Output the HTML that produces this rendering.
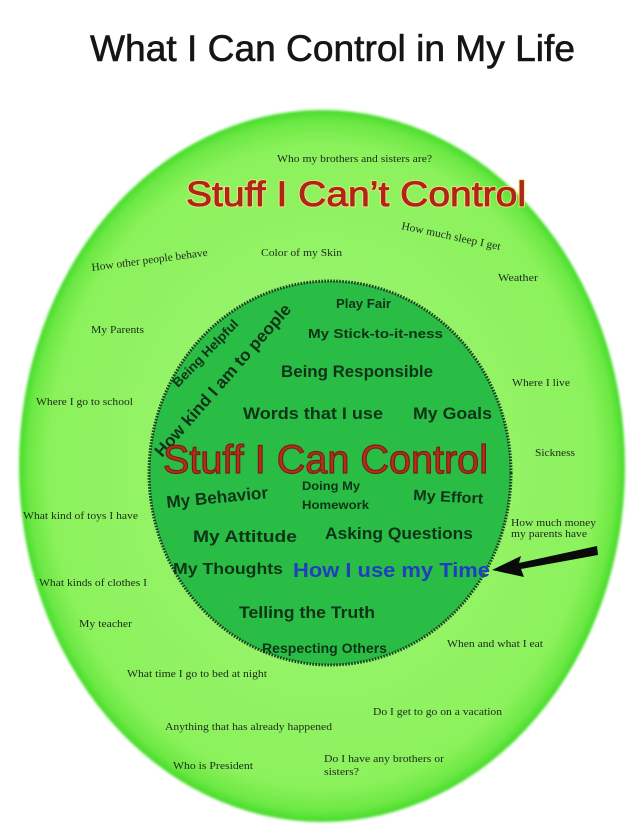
<!DOCTYPE html>
<html><head><meta charset="utf-8"><style>
html,body{margin:0;padding:0;background:#fff;}
svg{display:block;}
.o{font-family:"Liberation Serif",serif;font-size:11px;fill:#1c2a1c;}
.i{font-family:"Liberation Sans",sans-serif;font-weight:bold;fill:#0f3318;}
</style></head><body>
<svg width="640" height="831" viewBox="0 0 640 831" xmlns="http://www.w3.org/2000/svg">
<defs>
<radialGradient id="og" cx="0.5" cy="0.5" r="0.5">
<stop offset="0" stop-color="#a0f578"/>
<stop offset="0.9" stop-color="#8cf25c"/>
<stop offset="0.97" stop-color="#6ce844"/>
<stop offset="1" stop-color="#46dc2a"/>
</radialGradient>
<filter id="bl" x="-5%" y="-5%" width="110%" height="110%"><feGaussianBlur stdDeviation="1.2"/></filter>
</defs>
<rect width="640" height="831" fill="#fff"/>
<text x="90" y="61" font-family="Liberation Sans, sans-serif" font-size="37" fill="#151515" stroke="#151515" stroke-width="0.6" textLength="485" lengthAdjust="spacingAndGlyphs">What I Can Control in My Life</text>

<ellipse cx="322" cy="466" rx="303" ry="356" fill="url(#og)" filter="url(#bl)"/>

<ellipse cx="330" cy="473" rx="181" ry="192" fill="#2abd45" stroke="#1d3a22" stroke-width="3" stroke-dasharray="1.6 1.4"/>

<!-- outer labels -->
<text class="o" x="277" y="162" textLength="155" lengthAdjust="spacingAndGlyphs">Who my brothers and sisters are?</text>
<text x="186" y="206" font-family="Liberation Sans, sans-serif" font-size="35" fill="#b0261a" stroke="#f2e27a" stroke-width="2.5" paint-order="stroke" textLength="340" lengthAdjust="spacingAndGlyphs">Stuff I Can’t Control</text>
<text x="186" y="206" font-family="Liberation Sans, sans-serif" font-size="35" fill="#b0261a" stroke="#a82418" stroke-width="0.8" textLength="340" lengthAdjust="spacingAndGlyphs">Stuff I Can’t Control</text>
<text class="o" x="401" y="229" transform="rotate(12 401 229)" textLength="101" lengthAdjust="spacingAndGlyphs">How much sleep I get</text>
<text class="o" x="92" y="271" transform="rotate(-7.5 92 271)" textLength="117" lengthAdjust="spacingAndGlyphs">How other people behave</text>
<text class="o" x="261" y="256" textLength="81" lengthAdjust="spacingAndGlyphs">Color of my Skin</text>
<text class="o" x="498" y="281" textLength="40" lengthAdjust="spacingAndGlyphs">Weather</text>
<text class="o" x="91" y="333" textLength="53" lengthAdjust="spacingAndGlyphs">My Parents</text>
<text class="o" x="36" y="405" textLength="97" lengthAdjust="spacingAndGlyphs">Where I go to school</text>
<text class="o" x="23" y="519" textLength="115" lengthAdjust="spacingAndGlyphs">What kind of toys I have</text>
<text class="o" x="39" y="586" textLength="108" lengthAdjust="spacingAndGlyphs">What kinds of clothes I</text>
<text class="o" x="79" y="627" textLength="53" lengthAdjust="spacingAndGlyphs">My teacher</text>
<text class="o" x="512" y="386" textLength="58" lengthAdjust="spacingAndGlyphs">Where I live</text>
<text class="o" x="535" y="456" textLength="40" lengthAdjust="spacingAndGlyphs">Sickness</text>
<text class="o" x="511" y="526" textLength="85" lengthAdjust="spacingAndGlyphs">How much money</text>
<text class="o" x="511" y="537" textLength="76" lengthAdjust="spacingAndGlyphs">my parents have</text>
<text class="o" x="447" y="647" textLength="96" lengthAdjust="spacingAndGlyphs">When and what I eat</text>
<text class="o" x="127" y="677" textLength="140" lengthAdjust="spacingAndGlyphs">What time I go to bed at night</text>
<text class="o" x="373" y="715" textLength="129" lengthAdjust="spacingAndGlyphs">Do I get to go on a vacation</text>
<text class="o" x="165" y="730" textLength="167" lengthAdjust="spacingAndGlyphs">Anything that has already happened</text>
<text class="o" x="173" y="769" textLength="80" lengthAdjust="spacingAndGlyphs">Who is President</text>
<text class="o" x="324" y="762" textLength="120" lengthAdjust="spacingAndGlyphs">Do I have any brothers or</text>
<text class="o" x="324" y="775" textLength="35" lengthAdjust="spacingAndGlyphs">sisters?</text>

<!-- inner labels -->
<text class="i" x="336" y="308" font-size="13" textLength="55" lengthAdjust="spacingAndGlyphs">Play Fair</text>
<text class="i" x="308" y="338" font-size="13" textLength="135" lengthAdjust="spacingAndGlyphs">My Stick-to-it-ness</text>
<text class="i" x="281" y="377" font-size="17" textLength="152" lengthAdjust="spacingAndGlyphs">Being Responsible</text>
<text class="i" x="243" y="419" font-size="17" textLength="140" lengthAdjust="spacingAndGlyphs">Words that I use</text>
<text class="i" x="413" y="419" font-size="17" textLength="79" lengthAdjust="spacingAndGlyphs">My Goals</text>
<text class="i" x="178" y="388" font-size="13" transform="rotate(-46 178 388)" textLength="88" lengthAdjust="spacingAndGlyphs">Being Helpful</text>
<text class="i" x="162" y="458" font-size="17" transform="rotate(-48.7 162 458)" textLength="197" lengthAdjust="spacingAndGlyphs">How kind I am to people</text>
<text x="163" y="473" font-family="Liberation Sans, sans-serif" font-size="40" fill="#b0301c" stroke="#7a1e12" stroke-width="1.2" textLength="325" lengthAdjust="spacingAndGlyphs">Stuff I Can Control</text>
<text class="i" x="167" y="508" font-size="17" transform="rotate(-5.6 167 508)" textLength="102" lengthAdjust="spacingAndGlyphs">My Behavior</text>
<text class="i" x="302" y="490" font-size="12" textLength="58" lengthAdjust="spacingAndGlyphs">Doing My</text>
<text class="i" x="302" y="509" font-size="12" textLength="67" lengthAdjust="spacingAndGlyphs">Homework</text>
<text class="i" x="413" y="500" font-size="15" transform="rotate(3 413 500)" textLength="70" lengthAdjust="spacingAndGlyphs">My Effort</text>
<text class="i" x="193" y="542" font-size="17" textLength="104" lengthAdjust="spacingAndGlyphs">My Attitude</text>
<text class="i" x="325" y="539" font-size="17" textLength="148" lengthAdjust="spacingAndGlyphs">Asking Questions</text>
<text class="i" x="173" y="574" font-size="16" textLength="110" lengthAdjust="spacingAndGlyphs">My Thoughts</text>
<text x="293" y="577" font-family="Liberation Sans, sans-serif" font-weight="bold" font-size="20" fill="#1f3fbf" textLength="197" lengthAdjust="spacingAndGlyphs">How I use my Time</text>
<text class="i" x="239" y="618" font-size="17" textLength="136" lengthAdjust="spacingAndGlyphs">Telling the Truth</text>
<text class="i" x="262" y="653" font-size="14" textLength="125" lengthAdjust="spacingAndGlyphs">Respecting Others</text>

<!-- arrow -->
<polygon points="492,570 521,556 519,563 597,546 598,555 521,569 524,577" fill="#0a0a0a"/>
</svg>
</body></html>
